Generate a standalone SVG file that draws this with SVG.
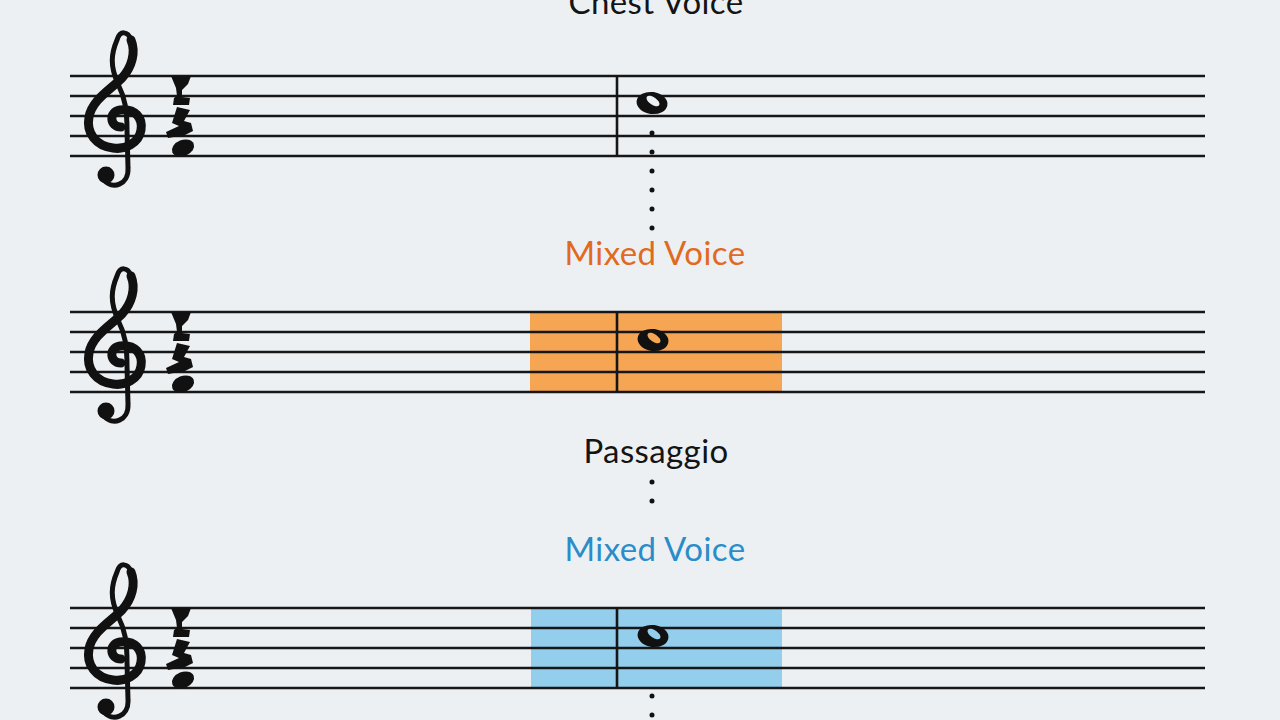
<svg xmlns="http://www.w3.org/2000/svg" width="1280" height="720" viewBox="0 0 1280 720">
<defs>
<style>
.bg{fill:#EDF0F3}
.line{stroke:#161616;stroke-width:2.6;fill:none}
.bar{stroke:#161616;stroke-width:2.6}
.lbl{font-family:Lato,"Open Sans","Liberation Sans",sans-serif;font-size:33px;letter-spacing:0.4px;text-anchor:middle}
.dots{stroke:#111;stroke-width:5;stroke-linecap:round;stroke-dasharray:0 19;fill:none}
.ink{fill:#111}
</style>
<g id="staffLines">
<line class="line" x1="70" y1="0" x2="1205" y2="0"/>
<line class="line" x1="70" y1="20" x2="1205" y2="20"/>
<line class="line" x1="70" y1="40" x2="1205" y2="40"/>
<line class="line" x1="70" y1="60" x2="1205" y2="60"/>
<line class="line" x1="70" y1="80" x2="1205" y2="80"/>
</g>
<g id="clef">
<path d="M121 127 C110 127 108 112 120 110 C135 108 143 118 141 130 C139 143 125 150 113 148 C96 146 86 133 89 117 C92 100 110 90 122 78 C132 67 136 52 131 40" fill="none" stroke="#111" stroke-width="9" stroke-linecap="round"/>
<path d="M131 40 C128 31 120 30 117 40 C111 54 110 66 118 84 C125 98 127 110 127 130 L128 168 C129 185 112 190 104 180" fill="none" stroke="#111" stroke-width="5" stroke-linecap="round"/>
<circle cx="106" cy="175" r="8.5" fill="#111"/>
<path class="ink" d="M171 76 L191 76 L188 84 L182 90 L182 97 L190 98 L189 105 L173 105 L174 98 L177 96 L176 88 Z"/>
<path class="ink" d="M177 107 L190 110 L184 121 L191 123 L193 131 L185 135 L168 138 L166 132 L179 126 L172 123 Z"/>
<ellipse class="ink" cx="183" cy="148" rx="11.5" ry="8" transform="rotate(-22 183 148)"/>
</g>
</defs>
<rect class="bg" x="0" y="0" width="1280" height="720"/>

<g id="staff1">
<text class="lbl" x="656" y="14" fill="#141414">Chest Voice</text>
<use href="#staffLines" y="76"/>
<use href="#clef"/>
<line class="bar" x1="617" y1="76" x2="617" y2="156"/>
<ellipse class="ink" cx="652" cy="103" rx="15.5" ry="11" transform="rotate(8 652 103)"/>
<ellipse cx="653" cy="101" rx="7.5" ry="3.8" fill="#EDF0F3" transform="rotate(35 653 101)"/>
</g>

<g id="staff2">
<text class="lbl" x="655" y="265" fill="#E06A1E">Mixed Voice</text>
<rect x="530" y="312" width="252" height="80" fill="#F6A552"/>
<use href="#staffLines" y="312"/>
<use href="#clef" transform="translate(0 236)"/>
<line class="bar" x1="617" y1="312" x2="617" y2="392"/>
<ellipse class="ink" cx="653" cy="340" rx="15.5" ry="11" transform="rotate(8 653 340)"/>
<ellipse cx="654" cy="338" rx="7.5" ry="3.8" fill="#F6A552" transform="rotate(35 654 338)"/>
</g>

<g id="passaggio">
<text class="lbl" x="656" y="463" fill="#141414">Passaggio</text>
</g>

<g id="staff3">
<text class="lbl" x="655" y="561" fill="#2A8CC8">Mixed Voice</text>
<rect x="531" y="608" width="251" height="80" fill="#93CEEC"/>
<use href="#staffLines" y="608"/>
<use href="#clef" transform="translate(0 532)"/>
<line class="bar" x1="617" y1="608" x2="617" y2="688"/>
<ellipse class="ink" cx="653" cy="636" rx="15.5" ry="11" transform="rotate(8 653 636)"/>
<ellipse cx="654" cy="634" rx="7.5" ry="3.8" fill="#93CEEC" transform="rotate(35 654 634)"/>
</g>

<g id="connectors">
<line class="dots" x1="652" y1="133" x2="652" y2="229"/>
<line class="dots" x1="652" y1="482" x2="652" y2="520"/>
<line class="dots" x1="652" y1="696" x2="652" y2="716"/>
</g>
</svg>
